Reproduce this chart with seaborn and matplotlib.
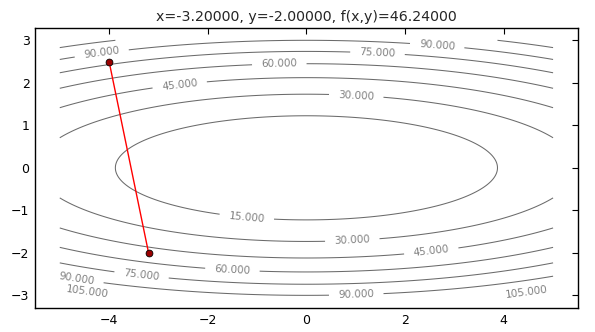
import numpy as np
import matplotlib
matplotlib.use("Agg")
import matplotlib.pyplot as plt
import seaborn as sns

# Quadratic bowl f(x, y) = a*x^2 + b*y^2 sampled on a grid
coef_x = 1.0
coef_y = 10.0
x_range = (-5.0, 5.0)
y_range = (-3.0, 3.0)
levels = [15, 30, 45, 60, 75, 90, 105]

# Optimisation step: start point and current point
path_x = [-4.0, -3.2]
path_y = [2.5, -2.0]
current_f = 46.24

# Where each contour label sits
label_spots = [
    (-4.15, 2.70), (-0.55, 2.45), (-2.57, 1.96), (1.44, 2.68), (2.65, 2.87),
    (1.01, 1.70), (-1.21, -1.17), (-1.50, -2.39), (-3.34, -2.50),
    (-4.66, -2.62), (-4.45, -2.93), (0.93, -1.70), (2.53, -1.95),
    (1.01, -2.98), (4.47, -2.91),
]

sns.set_style("white")
plt.rcParams["font.family"] = ["DejaVu Sans"]

xs = np.linspace(*x_range, 300)
ys = np.linspace(*y_range, 300)
X, Y = np.meshgrid(xs, ys)
Z = coef_x * X ** 2 + coef_y * Y ** 2

fig = plt.figure(figsize=(5.95, 3.32), dpi=100)
ax = fig.add_axes([0.059, 0.072, 0.912, 0.845])

cs = ax.contour(X, Y, Z, levels=levels, colors="0.42", linewidths=0.75)
labels = ax.clabel(cs, fmt="%.3f", fontsize=7.5, inline=True, inline_spacing=12,
                   manual=label_spots)
for t in labels:
    t.set_color("0.5")

sns.lineplot(x=path_x, y=path_y, ax=ax, color="red", linewidth=1.0,
             sort=False, estimator=None)
sns.scatterplot(x=path_x, y=path_y, ax=ax, color="#9a0000", edgecolor="black",
                linewidth=0.6, s=24, zorder=5)

ax.set_xlim(-5.5, 5.5)
ax.set_ylim(-3.3, 3.3)
ax.set_xticks([-4, -2, 0, 2, 4])
ax.set_yticks([-3, -2, -1, 0, 1, 2, 3])
ax.tick_params(direction="in", top=True, right=True, length=4, width=0.8,
               labelsize=9, colors="black", pad=4)
for sp in ax.spines.values():
    sp.set_color("black")
    sp.set_linewidth(1.0)

ax.set_title(f"x={path_x[-1]:.5f}, y={path_y[-1]:.5f}, f(x,y)={current_f:.5f}",
             fontsize=10.2, pad=5)

fig.savefig("out.png", dpi=100)
